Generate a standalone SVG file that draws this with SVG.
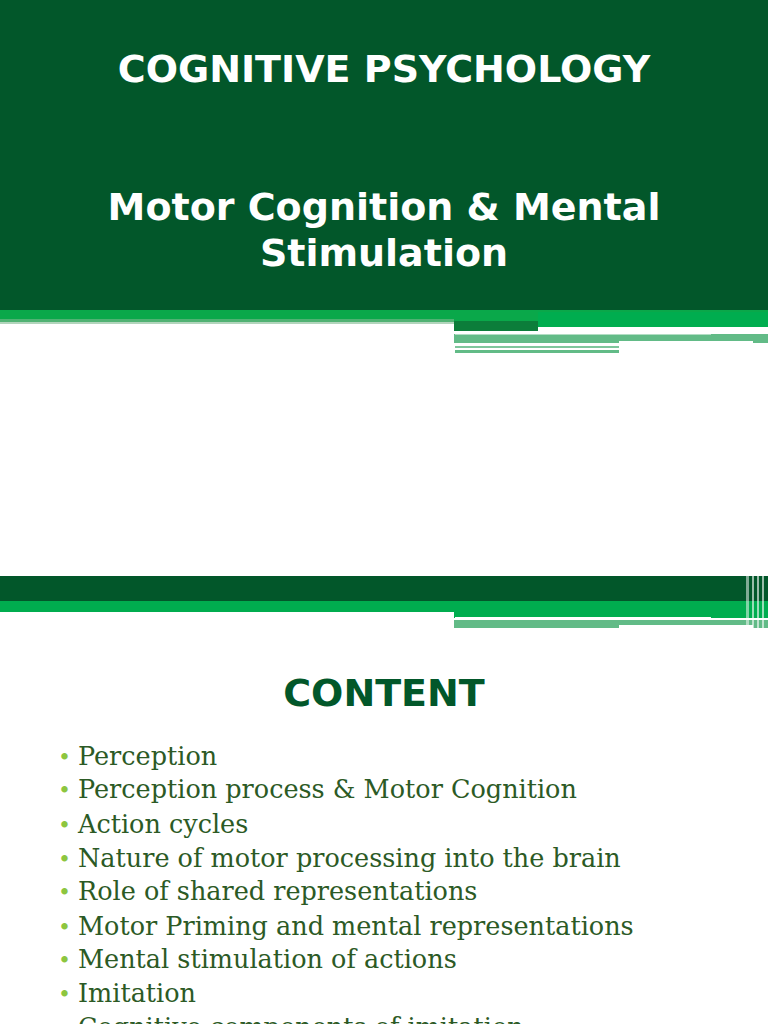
<svg xmlns="http://www.w3.org/2000/svg" width="768" height="1024" viewBox="0 0 768 1024">
<style>
.t{font-family:"DejaVu Sans",sans-serif;font-weight:bold;fill:#fff;text-anchor:middle}
.b{font-family:"DejaVu Serif","Liberation Serif",serif;font-size:25.5px;fill:#2c5a25}
.d{fill:#8dc63f;font-size:22px}
</style>
<rect width="768" height="1024" fill="#fff"/>
<g id="top-banner">
<rect x="0" y="0" width="768" height="312" fill="#02572a"/>
<rect x="0" y="310" width="768" height="12" fill="#0aa84a"/>
<rect x="0" y="319" width="454" height="5" fill="#7fb98f" opacity="0.6"/>
<rect x="454" y="321" width="84" height="10" fill="#0c7d3a"/>
<rect x="538" y="312" width="230" height="15" fill="#00ad4f"/>
<rect x="454" y="334" width="314" height="9" fill="#62bb87"/>
<rect x="455" y="332" width="256" height="2.5" fill="#fff"/>
<rect x="619" y="341" width="134" height="3" fill="#fff"/>
<rect x="455" y="346" width="164" height="2" fill="#7fc69c"/>
<rect x="455" y="350" width="164" height="3" fill="#62bb87"/>
<text class="t" x="384" y="82" font-size="38">COGNITIVE PSYCHOLOGY</text>
<text class="t" x="384" y="220" font-size="38">Motor Cognition &amp; Mental</text>
<text class="t" x="384" y="266" font-size="38">Stimulation</text>
</g>
<g id="bottom-banner">
<rect x="0" y="576" width="768" height="26" fill="#02572a"/>
<rect x="0" y="601" width="768" height="11" fill="#00ad4f"/>
<rect x="454" y="611" width="314" height="7" fill="#00ad4f"/>
<rect x="454" y="620" width="314" height="8" fill="#62bb87"/>
<rect x="455" y="617" width="256" height="2.5" fill="#fff"/>
<rect x="619" y="625" width="134" height="3" fill="#fff"/>
<rect x="746" y="576" width="3" height="52" fill="#fff" opacity="0.5"/>
<rect x="752" y="576" width="2" height="52" fill="#fff" opacity="0.6"/>
<rect x="757" y="576" width="2" height="52" fill="#fff" opacity="0.6"/>
<rect x="762" y="576" width="2" height="52" fill="#fff" opacity="0.6"/>
<text x="384" y="706" font-family="DejaVu Sans,sans-serif" font-weight="bold" font-size="38" fill="#02572a" text-anchor="middle">CONTENT</text>
</g>
<g id="bullets">
<text class="b" x="58" y="765"><tspan class="d">•</tspan><tspan x="78">Perception</tspan></text>
<text class="b" x="58" y="798"><tspan class="d">•</tspan><tspan x="78">Perception process &amp; Motor Cognition</tspan></text>
<text class="b" x="58" y="833"><tspan class="d">•</tspan><tspan x="78">Action cycles</tspan></text>
<text class="b" x="58" y="867"><tspan class="d">•</tspan><tspan x="78">Nature of motor processing into the brain</tspan></text>
<text class="b" x="58" y="900"><tspan class="d">•</tspan><tspan x="78">Role of shared representations</tspan></text>
<text class="b" x="58" y="935"><tspan class="d">•</tspan><tspan x="78">Motor Priming and mental representations</tspan></text>
<text class="b" x="58" y="968"><tspan class="d">•</tspan><tspan x="78">Mental stimulation of actions</tspan></text>
<text class="b" x="58" y="1002"><tspan class="d">•</tspan><tspan x="78">Imitation</tspan></text>
<text class="b" x="58" y="1036"><tspan class="d">•</tspan><tspan x="78">Cognitive components of imitation</tspan></text>
</g>
</svg>
